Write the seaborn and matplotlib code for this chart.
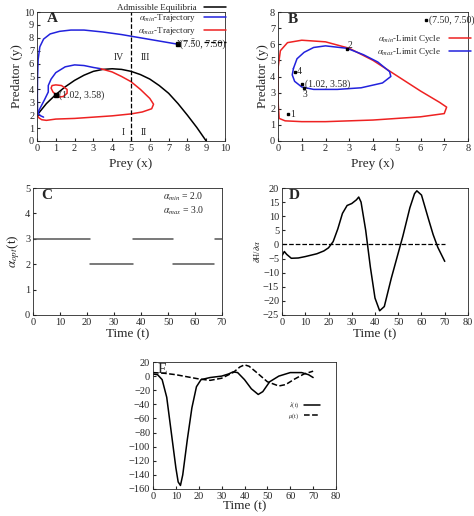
import matplotlib
matplotlib.use("Agg")
import matplotlib.pyplot as plt
import seaborn as sns

sns.set_style("ticks")
plt.rcParams['font.family'] = ['Liberation Serif', 'DejaVu Serif']
plt.rcParams['mathtext.fontset'] = 'stix'
plt.rcParams['font.size'] = 8

# ---- Panel A data ----
eq_x = [0, 0.5, 1, 1.5, 2, 2.5, 3, 3.5, 4, 4.5, 5, 5.5, 6, 6.5, 7, 7.5, 8, 8.5, 9]
eq_y = [2, 2.9, 3.6, 4.2, 4.7, 5.1, 5.4, 5.55, 5.6, 5.55, 5.4, 5.15, 4.8, 4.3, 3.7, 2.9, 2.0, 1.05, 0]
blueA_x = [7.5, 6.5, 5.5, 4.5, 3.5, 2.5, 1.8, 1.2, 0.7, 0.35, 0.15, 0.06, 0.03, 0.02, 0.03, 0.08, 0.2, 0.35]
blueA_y = [7.5, 7.75, 8.0, 8.25, 8.45, 8.6, 8.6, 8.5, 8.3, 7.9, 7.3, 6.3, 5.0, 3.5, 2.5, 2.1, 1.95, 1.85]
blueA2_x = [0.0, 0.15, 0.4, 0.6, 0.6, 0.75, 1.0, 1.5, 2.0, 2.5, 3.0, 3.4]
blueA2_y = [2.0, 2.5, 3.2, 3.8, 4.3, 4.8, 5.3, 5.75, 5.9, 5.85, 5.7, 5.6]
redA_x = [3.4, 4.0, 4.5, 5.0, 5.5, 6.0, 6.2, 6.1, 5.6, 5.0, 4.0, 3.0, 2.0, 1.0, 0.5, 0.25, 0.1, 0.0]
redA_y = [5.6, 5.35, 5.0, 4.6, 4.0, 3.3, 2.85, 2.5, 2.25, 2.1, 1.95, 1.85, 1.75, 1.7, 1.6, 1.65, 1.8, 2.0]
redA2_x = [1.02, 0.85, 0.75, 0.8, 1.0, 1.3, 1.6, 1.6, 1.4, 1.15, 1.02]
redA2_y = [3.58, 3.8, 4.1, 4.3, 4.35, 4.3, 4.0, 3.7, 3.45, 3.4, 3.58]

# ---- Panel B data ----
redB_x = [0.0, 0.1, 0.4, 1.0, 2.0, 3.0, 4.0, 5.0, 6.0, 6.8, 7.1, 7.0, 6.0, 5.0, 4.0, 3.0, 2.0, 1.0, 0.3, 0.05, 0.0, 0.0]
redB_y = [4.5, 5.6, 6.1, 6.25, 6.15, 5.75, 5.0, 4.05, 3.1, 2.4, 2.1, 1.7, 1.5, 1.4, 1.3, 1.25, 1.2, 1.2, 1.25, 1.4, 2.5, 4.5]
blueB_x = [0.65, 0.8, 1.1, 1.5, 2.0, 2.9, 3.6, 4.2, 4.7, 4.75, 4.4, 3.5, 2.5, 1.5, 1.0, 0.7, 0.6, 0.65]
blueB_y = [4.5, 5.1, 5.5, 5.8, 5.9, 5.75, 5.35, 4.9, 4.3, 4.0, 3.6, 3.3, 3.2, 3.2, 3.35, 3.7, 4.1, 4.5]
ptsB_x = [0.4, 2.9, 1.1, 0.7, 1.0, 6.25]
ptsB_y = [1.65, 5.7, 3.28, 4.3, 3.55, 7.5]
ptsB_lab = ["1", "2", "3", "4", "(1.02, 3.58)", "(7.50, 7.50)"]

# ---- Panel C data ----
seg_start = [0, 21, 37, 52, 67.5]
seg_end = [21, 37, 52, 67, 71]
seg_val = [3, 2, 3, 2, 3]

# ---- Panel D data ----
d_t = [0, 1, 2, 4, 7, 10, 15, 18, 20, 22, 24, 26, 28, 30, 32, 33, 34, 36, 38, 40, 42, 44, 47, 50, 52, 55, 57, 58, 60, 63, 65, 67, 70]
d_v = [-4, -2.5, -3.5, -4.9, -4.8, -4.3, -3.3, -2.3, -1.2, 1, 5.5, 11, 13.8, 14.5, 15.8, 16.8, 15, 5, -8, -19, -23.5, -22, -12, -3, 3, 13, 18, 19, 17.5, 9, 3.5, -1, -6]

# ---- Panel E data ----
e_t = [0, 2, 4, 6, 8, 10, 11, 12, 13, 15, 17, 19, 21, 25, 30, 33, 35, 37, 40, 43, 46, 48, 51, 55, 60, 65, 68, 70]
lam = [3, 2, -5, -30, -80, -130, -150, -155, -140, -90, -45, -15, -5, -2, 0, 3, 6, 5, -5, -18, -26, -22, -8, 0, 5, 5, 2, -2]
mu_t = [0, 5, 10, 15, 20, 25, 30, 35, 38, 40, 42, 45, 50, 55, 58, 62, 66, 70]
mu = [5, 4, 2, -1, -4, -6, -3, 5, 13, 16, 14, 6, -8, -14, -12, -4, 3, 7]

W, H = 474, 516
fig = plt.figure(figsize=(W/100, H/100), dpi=100)
def ax_at(x0, y0, x1, y1):
    return fig.add_axes([x0/W, (H-y1)/H, (x1-x0)/W, (y1-y0)/H])

def line(ax, x, y, **kw):
    sns.lineplot(x=x, y=y, ax=ax, sort=False, estimator=None, **kw)

LBL = 9.5
# A
axA = ax_at(37, 12, 225, 141)
line(axA, eq_x, eq_y, color='black', lw=1.1, label='Admissible Equilibria')
line(axA, blueA_x, blueA_y, color='#2222dd', lw=1.1, label=r'$\alpha_{min}$-Trajectory')
line(axA, blueA2_x, blueA2_y, color='#2222dd', lw=1.1)
line(axA, redA_x, redA_y, color='#ee2222', lw=1.1, label=r'$\alpha_{max}$-Trajectory')
line(axA, redA2_x, redA2_y, color='#ee2222', lw=1.1)
axA.axvline(5, color='black', ls='--', lw=0.9, label=r'x = $\bar{x}$')
axA.plot([7.5, 1.02], [7.5, 3.58], 'ks', ms=2.2, ls='none')
axA.text(7.6, 7.5, '(7.50, 7.50)', va='center', fontsize=7)
axA.text(1.15, 3.58, '(1.02, 3.58)', va='center', fontsize=7)
for t, (x, y) in zip(['IV', 'III', 'I', 'II'], [(4.1, 6.3), (5.5, 6.3), (4.5, 0.5), (5.5, 0.5)]):
    axA.text(x, y, t, fontsize=7)
axA.text(0.5, 9.2, 'A', fontsize=11, fontweight='bold')
axA.set_xlim(0, 10); axA.set_ylim(0, 10)
axA.set_xticks(range(11)); axA.set_yticks(range(11))
axA.set_xlabel('Prey (x)', fontsize=LBL); axA.set_ylabel('Predator (y)', labelpad=1, fontsize=LBL)
axA.legend(loc='upper right', bbox_to_anchor=(1.03, 1.1), frameon=False, markerfirst=False,
           fontsize=6.5, handlelength=2.5, labelspacing=0.05, borderpad=0)

# B
axB = ax_at(278, 12, 468, 141)
line(axB, redB_x, redB_y, color='#ee2222', lw=1.1, label=r'$\alpha_{min}$-Limit Cycle')
line(axB, blueB_x, blueB_y, color='#2222dd', lw=1.1, label=r'$\alpha_{max}$-Limit Cycle')
axB.plot(ptsB_x, ptsB_y, 'ks', ms=2.0, ls='none')
offs = [(0.1, 0), (0.05, 0.25), (-0.05, -0.4), (0.1, 0), (0.15, 0), (0.1, 0)]
for (x, y, s), (dx, dy) in zip(zip(ptsB_x, ptsB_y, ptsB_lab), offs):
    axB.text(x+dx, y+dy, s, va='center', fontsize=7)
axB.text(0.4, 7.3, 'B', fontsize=11, fontweight='bold')
axB.set_xlim(0, 8); axB.set_ylim(0, 8)
axB.set_xticks(range(9)); axB.set_yticks(range(9))
axB.set_xlabel('Prey (x)', fontsize=LBL); axB.set_ylabel('Predator (y)', labelpad=1, fontsize=LBL)
axB.legend(loc='upper right', bbox_to_anchor=(1.04, 0.87), frameon=False, markerfirst=False,
           fontsize=6.5, handlelength=2.5, labelspacing=0.05, borderpad=0)

# C
axC = ax_at(33, 188, 222, 315)
for s, e, v in zip(seg_start, seg_end, seg_val):
    line(axC, [s, e], [v, v], color='#555555', lw=1.1)
axC.text(3, 4.55, 'C', fontsize=11, fontweight='bold')
axC.text(48, 4.55, r'$\alpha_{min}$ = 2.0', fontsize=7)
axC.text(48, 4.0, r'$\alpha_{max}$ = 3.0', fontsize=7)
axC.set_xlim(0, 70); axC.set_ylim(0, 5)
axC.set_xticks(range(0, 71, 10)); axC.set_yticks(range(6))
axC.set_xlabel('Time (t)', fontsize=LBL, labelpad=1); axC.set_ylabel(r'$\alpha_{opt}$(t)', labelpad=2, fontsize=LBL)

# D
axD = ax_at(282, 188, 468, 315)
line(axD, d_t, d_v, color='black', lw=1.1)
axD.axhline(0, xmin=0, xmax=70/80, color='black', ls='--', lw=0.9)
axD.text(3, 16, 'D', fontsize=11, fontweight='bold')
axD.set_xlim(0, 80); axD.set_ylim(-25, 20)
axD.set_xticks(range(0, 81, 10)); axD.set_yticks(range(-25, 21, 5))
axD.set_xlabel('Time (t)', fontsize=LBL, labelpad=1)
axD.set_ylabel(r'$\partial$H/$\partial\alpha$', fontsize=6, labelpad=1)

# E
axE = ax_at(153, 362, 336, 489)
line(axE, e_t, lam, color='black', lw=1.1, label=r'$\lambda$(t)')
line(axE, mu_t, mu, color='black', lw=1.1, ls='--', label=r'$\mu$(t)')
axE.text(2, 4, 'E', fontsize=11)
axE.set_xlim(0, 80); axE.set_ylim(-160, 20)
axE.set_xticks(range(0, 81, 10)); axE.set_yticks(range(-160, 21, 20))
axE.set_xlabel('Time (t)', fontsize=LBL, labelpad=0)
axE.legend(loc='upper right', bbox_to_anchor=(0.93, 0.72), frameon=False, markerfirst=False,
           fontsize=4.5, handlelength=2.5, labelspacing=0.1, borderpad=0)

for ax in [axA, axB, axC, axD, axE]:
    ax.tick_params(labelsize=7.5, length=2, direction='in', pad=2)
    for s in ax.spines.values():
        s.set_linewidth(0.6)

fig.savefig('out.png', dpi=100)
